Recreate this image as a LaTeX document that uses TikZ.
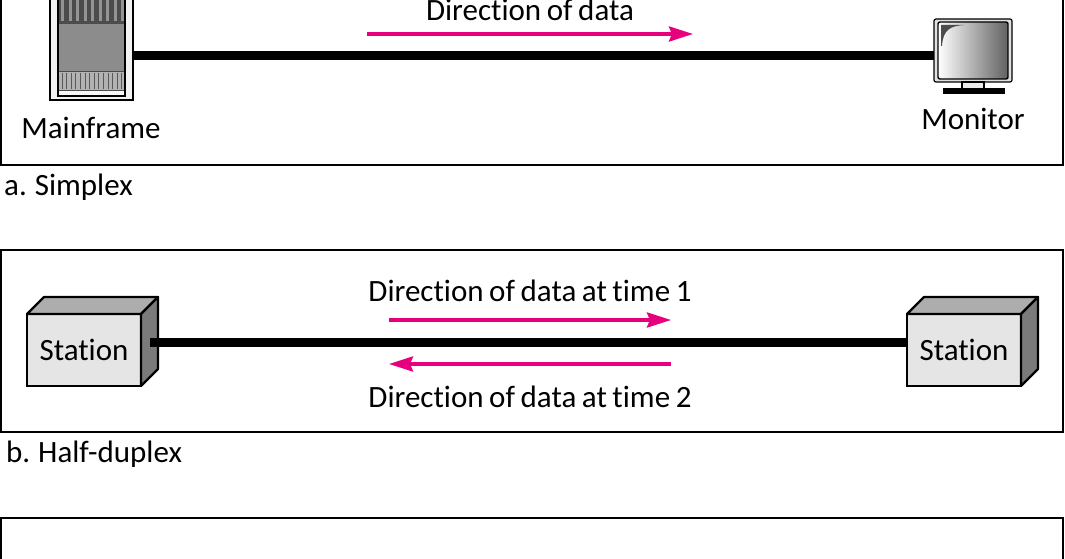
\documentclass[tikz,border=0pt]{standalone}
\usepackage{fontspec}
\setmainfont[RawFeature={-liga},WordSpace=0.8]{Carlito}
\usepackage{xcolor}
\usetikzlibrary{positioning,calc,arrows.meta}
\definecolor{datapink}{HTML}{E6007E}
\tikzset{
    panelbox/.style={draw=black, line width=2pt, minimum width=1062pt, inner sep=0pt, outer sep=0pt},
    stationbox/.style={draw=black, line width=2.2pt, fill=black!10, minimum width=114pt, minimum height=72pt, inner sep=0pt, outer sep=0pt, font=\fontsize{31}{34}\selectfont},
    stationtop/.style={draw=black, line width=2.2pt, fill=black!32, line join=round},
    stationside/.style={draw=black, line width=2.2pt, fill=black!52, line join=round},
    caption/.style={font=\fontsize{31}{34}\selectfont, inner sep=0pt},
    dataline/.style={line width=9pt, black},
    dataarrow/.style={datapink, line width=3.6pt, -{Stealth[length=24pt,width=15pt,inset=3pt]}},
}
\begin{document}
\begin{tikzpicture}[x=1pt,y=-1pt]
    \useasboundingbox (0,0) rectangle (1065,559);

    % Panels
    \node[panelbox, minimum height=205pt] (panelA) at (532,62.5) {};
    \node[panelbox, minimum height=182pt] (panelB) at (532,341) {};
    \node[panelbox, minimum height=120pt] (panelC) at (532,578) {};

    % Mainframe
    \node[draw=black, line width=1.5pt, fill=black!5, minimum width=83pt, minimum height=130pt, inner sep=0pt, outer sep=0pt] (mainframe) at (91.5,35) {};
    \node[draw=black, line width=2pt, fill=black!3, minimum width=67pt, minimum height=126pt, inner sep=0pt, outer sep=0pt] (cabinet) at (91.5,33) {};
    \fill[black!45] (59,-10) rectangle (124,91);
    \fill[black!70] (59,-10) rectangle (124,24);
    \foreach \x in {61,68.5,...,121} {
        \fill[black!42] (\x,-10) rectangle (\x+3,21);
    }
    \fill[black!30] (59,72) rectangle (124,90);
    \foreach \x in {62,66.6,...,122} {
        \draw[black!65, line width=1pt] (\x,73) -- (\x,89);
    }
    \draw[black!70, line width=1pt] (59,72) -- (124,72) (59,90.5) -- (124,90.5);

    % Monitor
    \node[draw=black, line width=1.2pt, rounded corners=2pt, fill=black!12, minimum width=78pt, minimum height=63pt, inner sep=0pt, outer sep=0pt] (monitor) at (973,50.5) {};
    \node[draw=black, line width=1.4pt, rounded corners=2pt, left color=white, right color=black!62, minimum width=70pt, minimum height=57pt, inner sep=0pt, outer sep=0pt] (screen) at (973,50.5) {};
    \fill[black!70] (941,25) -- (964,25) .. controls (950,26) and (943,30) .. (942,46) -- (941,46) -- cycle;
    \draw[black, line width=1.4pt, fill=black!8] (962,82) rectangle (984,89);
    \draw[black, line width=1pt, fill=black] (943,89) rectangle (1004,94);

    % Simplex line and arrow
    \draw[dataline] (mainframe.east |- 0,56) -- (monitor.west |- 0,56);
    \coordinate (arrowAstart) at (367,34);
    \coordinate (arrowAend) at (693,34);
    \draw[dataarrow] (arrowAstart) -- (arrowAend);

    % Stations
    \node[stationbox] (stationL) at (84,350) {Station};
    \node[stationbox] (stationR) at (964,350) {Station};
    \foreach \st in {stationL,stationR} {
        \draw[stationtop] (\st.north west) -- ++(17,-17) -- ++(114,0) -- (\st.north east) -- cycle;
        \draw[stationside] (\st.north east) -- ++(17,-17) -- ++(0,72) -- (\st.south east) -- cycle;
    }

    % Half-duplex line and arrows
    \coordinate (stubL) at (150,342);
    \draw[dataline] (stubL) -- (stationR.west |- stubL);
    \coordinate (arrowBleft) at (389,320);
    \coordinate (arrowBright) at (671,320);
    \coordinate (arrowCleft) at (389,364);
    \coordinate (arrowCright) at (671,364);
    \draw[dataarrow] (arrowBleft) -- (arrowBright);
    \draw[dataarrow] (arrowCright) -- (arrowCleft);

    % Labels
    \node[caption] (labelMainframe) at (91,128) {Mainframe};
    \node[caption] (labelMonitor) at (973,119) {Monitor};
    \node[caption] (labelData) at (530,10) {Direction of data};
    \node[caption] (labelTimeA) at (530,291) {Direction of data at time 1};
    \node[caption] (labelTimeB) at (530,397) {Direction of data at time 2};
    \node[caption, anchor=west] (labelA) at (4,187) {a. Simplex};
    \node[caption, anchor=west] (labelB) at (6,454) {b. Half-duplex};
\end{tikzpicture}
\end{document}
